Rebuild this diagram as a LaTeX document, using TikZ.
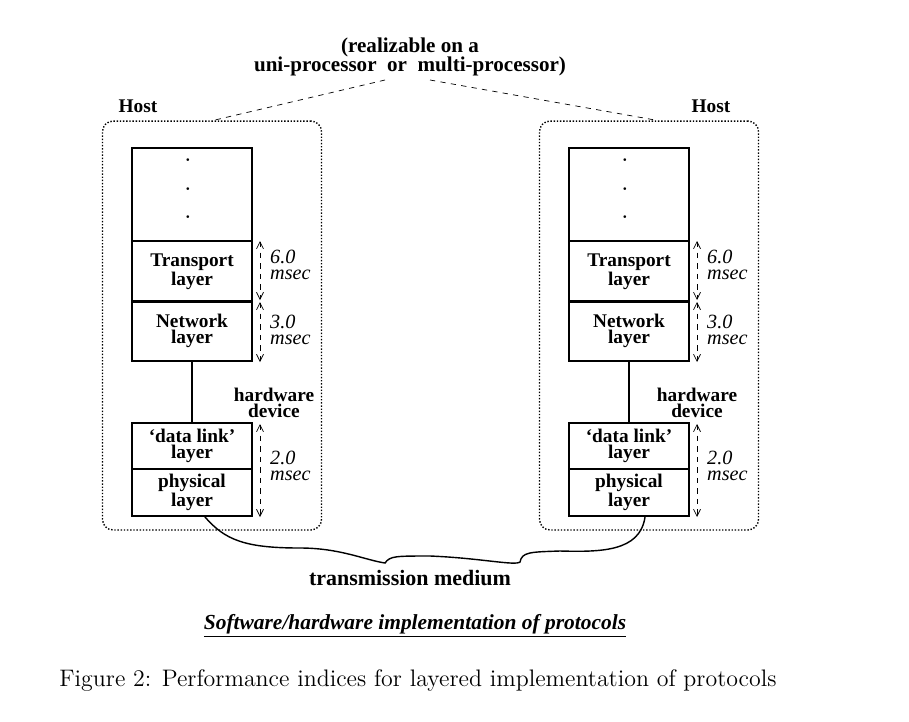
\documentclass[tikz,border=0pt]{standalone}
\usepackage{fontspec}
\newfontfamily\tms{Liberation Serif}
\usetikzlibrary{arrows.meta}
\begin{document}
\begin{tikzpicture}[x=0.02cm,y=-0.02cm,
  lay/.style={draw,thick,minimum width=2.4cm,inner sep=0pt,font=\tms\bfseries\fontsize{11}{9.5}\selectfont,align=center},
  host/.style={draw,densely dotted,rounded corners=6pt,thick},
  tm/.style={dashed,{Straight Barb[length=4pt,width=4pt]}-{Straight Barb[length=4pt,width=4pt]}},
  ms/.style={font=\tms\itshape\fontsize{11.5}{9.5}\selectfont,align=left,anchor=west},
  bl/.style={font=\tms\bfseries\fontsize{11}{9.5}\selectfont,align=center}]
\useasboundingbox (0,0) rectangle (909,721);
\foreach \s/\x/\hx/\hy/\hd in {L/192/138/106/274,R/629/711/107/697}{
  \node[host,minimum width=4.38cm,minimum height=8.18cm] (host\s) at (\x+20,325.5) {};
  \node[lay,minimum height=1.86cm] (top\s) at (\x,194.5) {};
  \foreach \k/\yy in {1/163,2/192,3/220} \node[inner sep=0pt,font=\bfseries] (d\s\k) at (\x-4,\yy-3) {.};
  \node[lay,minimum height=1.22cm] (tr\s) at (\x,271.5) {Transport\\layer};
  \node[lay,minimum height=1.2cm] (nw\s) at (\x,331) {Network\\layer};
  \node[lay,minimum height=0.92cm] (dl\s) at (\x,446) {‘data link’\\layer};
  \node[lay,minimum height=0.94cm] (ph\s) at (\x,492.5) {physical\\layer};
  \draw[thick] (nw\s) -- (dl\s);
  \node[bl] (hl\s) at (\hx,106) {Host};
  \node[bl] (hw\s) at (\hd,403) {hardware\\device};
  \coordinate (a1\s) at (\x+68,241); \coordinate (a2\s) at (\x+68,300);
  \coordinate (a3\s) at (\x+68,302); \coordinate (a4\s) at (\x+68,362);
  \coordinate (a5\s) at (\x+68,424); \coordinate (a6\s) at (\x+68,517);
  \draw[tm] (a1\s) -- (a2\s); \draw[tm] (a3\s) -- (a4\s); \draw[tm] (a5\s) -- (a6\s);
  \node[ms] (m1\s) at (\x+72,265) {6.0\\msec};
  \node[ms] (m2\s) at (\x+72,330) {3.0\\msec};
  \node[ms] (m3\s) at (\x+72,466) {2.0\\msec};
}
\node[bl,font=\tms\bfseries\fontsize{12}{11}\selectfont] (real) at (410,57) {(realizable on a\\uni-processor\ \ or\ \ multi-processor)};
\coordinate (r1) at (385,80); \coordinate (r2) at (430,80);
\coordinate (h1) at (215,120); \coordinate (h2) at (655,120);
\draw[dashed] (r1) -- (h1); \draw[dashed] (r2) -- (h2);
\coordinate (p1) at (205,517); \coordinate (p2) at (645,517);
\draw[thick] (p1) .. controls (225,540) and (245,548) .. (300,548)
  .. controls (340,548) and (365,560) .. (385,563)
  .. controls (390,556) and (395,556) .. (430,556)
  .. controls (480,558) and (515,566) .. (520,562)
  .. controls (522,552) and (530,552) .. (560,551)
  .. controls (600,552) and (640,552) .. (p2);
\node[bl,font=\tms\bfseries\fontsize{12.5}{11}\selectfont] (tmed) at (410,578) {transmission medium};
\node[font=\tms\bfseries\itshape\fontsize{12.2}{11}\selectfont] (cap) at (415,626) {\underline{Software/hardware implementation of protocols}};
\node[font=\fontsize{13.6}{15}\selectfont] (fig) at (418,681) {Figure 2: Performance indices for layered implementation of protocols};
\end{tikzpicture}
\end{document}
